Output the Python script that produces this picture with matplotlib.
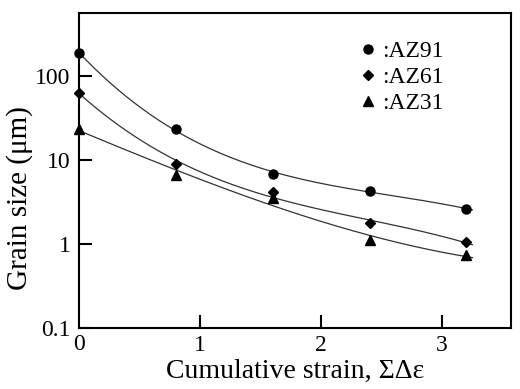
import numpy as np
import matplotlib
matplotlib.use("Agg")
import matplotlib.pyplot as plt
from matplotlib import font_manager

names = sorted({f.name for f in font_manager.fontManager.ttflist})
serif_choice = [n for n in ["Liberation Serif", "Times New Roman", "DejaVu Serif"] if n in names]
plt.rcParams['font.family'] = 'serif'
plt.rcParams['font.serif'] = serif_choice + ['DejaVu Serif']
plt.rcParams['mathtext.fontset'] = 'stix'

strain = [0.0, 0.8, 1.6, 2.4, 3.2]
az91 = [186, 23, 6.8, 4.3, 2.6]
az61 = [63, 9.0, 4.1, 1.75, 1.05]
az31 = [23, 6.6, 3.5, 1.1, 0.73]
series = [(":AZ91", az91, "o", 6.5), (":AZ61", az61, "D", 5.5), (":AZ31", az31, "^", 6.5)]

xticks = [1, 2, 3]
yticks = [0.1, 1, 10, 100]
yticklabels = ["0.1", "1", "10", "100"]

fig = plt.figure(figsize=(5.2, 3.89), dpi=100)
ax = fig.add_axes([0.152, 0.157, 0.831, 0.810])

xs = np.asarray(strain)
xfit = np.linspace(0, 3.25, 200)
for label, vals, m, ms in series:
    coef = np.polyfit(xs, np.log10(vals), 3)
    ax.plot(xfit, 10 ** np.polyval(coef, xfit), color="#333333", lw=0.9, zorder=2)
    ax.plot(xs, vals, linestyle="none", marker=m, color="black", ms=ms,
            label=label, zorder=3, clip_on=False)

ax.set_yscale("log")
ax.set_xlim(0, 3.57)
ax.set_ylim(0.1, 560)
ax.set_xticks(xticks)
ax.set_yticks(yticks)
ax.set_yticklabels(yticklabels)
ax.yaxis.set_minor_locator(matplotlib.ticker.NullLocator())
ax.xaxis.set_minor_locator(matplotlib.ticker.NullLocator())
ax.tick_params(direction="in", length=9.5, width=1.5, labelsize=17, top=False, right=False)
ax.tick_params(axis="y", pad=6)
ax.tick_params(axis="x", pad=5)
for s in ax.spines.values():
    s.set_linewidth(1.5)

fig.text(79/520, 1-345/389, "0", fontsize=17, ha="center", va="center")

ax.set_xlabel("Cumulative strain, ΣΔε", fontsize=20, labelpad=2)
ax.set_ylabel("Grain size (μm)", fontsize=21)
ax.yaxis.set_label_coords(-0.106, 0.413)

leg = ax.legend(loc="upper left", bbox_to_anchor=(0.625, 0.95), frameon=False,
                fontsize=17, handlelength=0.6, handletextpad=0.3, labelspacing=0.2,
                borderpad=0)

fig.savefig("out.png", dpi=100)
